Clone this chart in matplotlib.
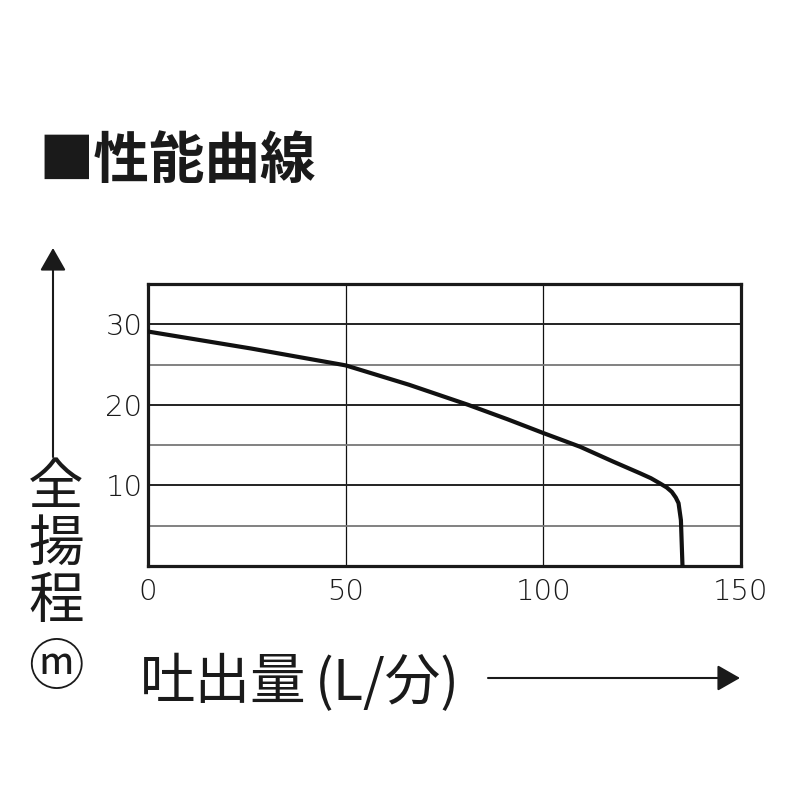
import matplotlib
matplotlib.use("Agg")
import matplotlib.pyplot as plt
from matplotlib.patches import FancyArrowPatch

# performance curve
flow = [0, 26, 50, 66, 81, 91, 100, 109.3, 117.7, 124.5, 127.2, 129.5, 131.2, 132.5, 133.5, 134.2, 134.8, 135.2]
head = [29.1, 27.0, 24.9, 22.5, 20.0, 18.2, 16.5, 14.8, 12.95, 11.5, 10.9, 10.25, 9.75, 9.2, 8.5, 7.8, 5.7, 0]

x_ticks = [0, 50, 100, 150]
y_ticks = [10, 20, 30]
y_minor = [5, 15, 25]

title = "■性能曲線"
y_label = ["全", "揚", "程", "ⓜ"]
x_label_a = "吐出量"
x_label_b = "(L/分)"

W = H = 795
cjk = ["Noto Sans CJK JP", "DejaVu Sans"]


def fx(px):
    return px / W


def fy(py):
    return 1 - py / H


fig = plt.figure(figsize=(7.95, 7.95), dpi=100)
ax = fig.add_axes([fx(148), fy(566), (741 - 148) / W, (566 - 284) / H])

ax.plot(flow, head, color="#111111", lw=3.0, solid_joinstyle="round", zorder=3)

ax.set_xlim(0, 150)
ax.set_ylim(0, 35)
ax.set_xticks(x_ticks)
ax.set_yticks(y_ticks)
ax.set_yticks(y_minor, minor=True)
ax.set_xticklabels([str(t) for t in x_ticks])
ax.set_yticklabels([str(t) for t in y_ticks])

ax.grid(which="major", axis="y", color="#222222", lw=1.4)
ax.grid(which="minor", axis="y", color="#777777", lw=1.3)
ax.grid(which="major", axis="x", color="#111111", lw=0.9)
ax.set_axisbelow(True)

for s in ax.spines.values():
    s.set_linewidth(2.3)
    s.set_color("#1a1a1a")

ax.tick_params(which="both", length=0)
ax.tick_params(axis="y", pad=4)
ax.tick_params(axis="x", pad=9)
for lab in ax.get_xticklabels() + ax.get_yticklabels():
    lab.set_fontfamily("DejaVu Sans")
    lab.set_fontweight("light")
    lab.set_fontsize(21)
    lab.set_color("#1a1a1a")

# title
fig.text(fx(38), fy(162), title, fontsize=40, fontweight="bold", family=cjk,
         ha="left", va="center", color="#1a1a1a")

# vertical axis label, stacked characters
for i, ch in enumerate(y_label):
    fig.text(fx(56), fy(488 + 57 * i + (10 if i == 3 else 0)), ch, fontsize=40,
             family=cjk, ha="center", va="center", color="#1a1a1a")

# horizontal axis label
fig.text(fx(140), fy(683), x_label_a, fontsize=40, family=cjk,
         ha="left", va="center", color="#1a1a1a")
fig.text(fx(315), fy(683), x_label_b, fontsize=40, family=cjk,
         ha="left", va="center", color="#1a1a1a")

# arrows
arr_style = "-|>,head_length=0.7,head_width=0.4"
fig.add_artist(FancyArrowPatch((fx(53), fy(457)), (fx(53), fy(248)),
                               transform=fig.transFigure, arrowstyle=arr_style,
                               mutation_scale=20, lw=1.5, color="#1a1a1a",
                               shrinkA=0, shrinkB=0))
fig.add_artist(FancyArrowPatch((fx(488), fy(678)), (fx(740), fy(678)),
                               transform=fig.transFigure, arrowstyle=arr_style,
                               mutation_scale=20, lw=1.5, color="#1a1a1a",
                               shrinkA=0, shrinkB=0))

fig.savefig("out.png", dpi=100, facecolor="white")
